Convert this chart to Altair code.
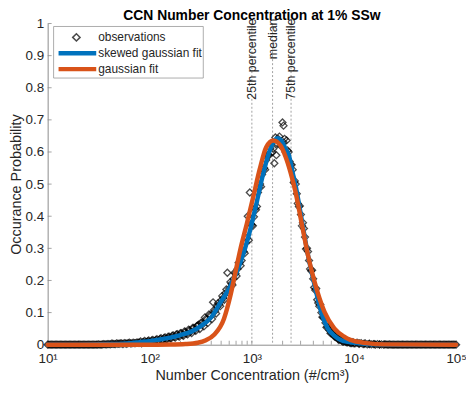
import altair as alt
import pandas as pd

# ---------------- data (log10 of concentration, probability) ----------------
obs_log_left = [1.0, 1.025, 1.05, 1.075, 1.1, 1.125, 1.15, 1.175, 1.2, 1.225,
                1.25, 1.275, 1.3, 1.325, 1.35, 1.375, 1.4, 1.425, 1.45, 1.475,
                1.5, 1.525, 1.55, 1.575, 1.6, 1.625, 1.65, 1.675, 1.7, 1.725,
                1.75, 1.775, 1.8, 1.825, 1.85, 1.875]
obs_p_left = [0, 0, 0, 0, 0, 0, 0, 0, 0, 0,
              0, 0, 0, 0, 0, 0, 0, 0, 0, 0,
              0.001, 0, 0.002, 0.001, 0.002, 0.003, 0.002, 0.004, 0.003, 0.004,
              0.005, 0.003, 0.006, 0.004, 0.005, 0.007]

obs_log_left2 = [1.0125, 1.0375, 1.0625, 1.0875, 1.1125, 1.1375, 1.1625, 1.1875,
                 1.2125, 1.2375, 1.2625, 1.2875, 1.3125, 1.3375, 1.3625, 1.3875,
                 1.4125, 1.4375, 1.4625, 1.4875, 1.5125, 1.5375, 1.5625, 1.5875,
                 1.6125, 1.6375, 1.6625, 1.6875, 1.7125, 1.7375, 1.7625, 1.7875,
                 1.8125, 1.8375, 1.8625, 1.8875]
obs_p_left2 = [0, 0, 0, 0, 0, 0, 0, 0, 0, 0,
               0, 0, 0, 0, 0, 0, 0, 0, 0, 0,
               0, 0.001, 0.001, 0.002, 0.001, 0.003, 0.002, 0.003, 0.004, 0.002,
               0.004, 0.005, 0.004, 0.006, 0.005, 0.006]

obs_log_mid = [1.90, 1.92, 1.94, 1.96, 1.98, 2.00, 2.02, 2.04, 2.06, 2.08,
               2.10, 2.12, 2.14, 2.16, 2.18, 2.20, 2.22, 2.24, 2.26, 2.28,
               2.30, 2.32, 2.34, 2.36, 2.38, 2.40, 2.42, 2.44, 2.46, 2.48,
               2.50, 2.52, 2.54, 2.56, 2.58, 2.60, 2.62, 2.64, 2.66, 2.68,
               2.70, 2.72, 2.74, 2.76, 2.78, 2.80, 2.82, 2.84, 2.86, 2.88,
               2.90, 2.92, 2.94, 2.96, 2.98, 3.00, 3.02, 3.04, 3.06, 3.08,
               3.10, 3.12, 3.14, 3.16, 3.18, 3.20, 3.22, 3.24, 3.26, 3.28,
               3.30, 3.31, 3.32, 3.34, 3.36, 3.38, 3.40, 3.42, 3.44, 3.46,
               3.48, 3.50, 3.52, 3.54, 3.56, 3.58, 3.60, 3.62, 3.64, 3.66,
               3.68, 3.70, 3.72, 3.74, 3.76, 3.78, 3.80, 3.82, 3.84, 3.86,
               3.88, 3.90, 3.92, 3.94, 3.96, 3.98, 4.00, 4.05, 4.10, 4.15,
               4.20, 4.25]
obs_p_mid = [0.006, 0.004, 0.009, 0.007, 0.011, 0.008, 0.013, 0.010, 0.015, 0.012,
             0.018, 0.014, 0.021, 0.017, 0.025, 0.020, 0.028, 0.024, 0.032, 0.027,
             0.036, 0.030, 0.041, 0.035, 0.047, 0.040, 0.052, 0.046, 0.058, 0.062,
             0.068, 0.064, 0.085, 0.078, 0.094, 0.090, 0.132, 0.105, 0.118, 0.125,
             0.138, 0.146, 0.160, 0.224, 0.175, 0.190, 0.205, 0.222, 0.236, 0.255,
             0.262, 0.290, 0.318, 0.400, 0.474, 0.372, 0.398, 0.420, 0.474, 0.500,
             0.530, 0.550, 0.575, 0.590, 0.612, 0.600, 0.565, 0.590, 0.640, 0.620,
             0.692, 0.682, 0.641, 0.636, 0.600, 0.560, 0.545, 0.510, 0.470, 0.430,
             0.405, 0.380, 0.335, 0.300, 0.262, 0.230, 0.205, 0.170, 0.140, 0.120,
             0.100, 0.085, 0.068, 0.055, 0.045, 0.036, 0.030, 0.024, 0.019, 0.015,
             0.013, 0.010, 0.009, 0.007, 0.006, 0.005, 0.004, 0.004, 0.003, 0.002,
             0.002, 0.001]

obs_log_mid2 = [1.91, 1.93, 1.95, 1.97, 1.99, 2.01, 2.03, 2.05, 2.07, 2.09,
                2.11, 2.13, 2.15, 2.17, 2.19, 2.21, 2.23, 2.25, 2.27, 2.29,
                2.31, 2.33, 2.35, 2.37, 2.39, 2.41, 2.43, 2.45, 2.47, 2.49,
                2.51, 2.53, 2.55, 2.57, 2.59, 2.61, 2.63, 2.65, 2.67, 2.69,
                2.71, 2.73, 2.75, 2.77, 2.79, 2.81, 2.83, 2.85, 2.87, 2.89,
                2.91, 2.93, 2.95, 2.97, 2.99, 3.01, 3.03, 3.05, 3.07, 3.09,
                3.11, 3.13, 3.15, 3.17, 3.19, 3.21, 3.23, 3.25, 3.27, 3.29,
                3.31, 3.33, 3.35, 3.37, 3.39, 3.41, 3.43, 3.45, 3.47, 3.49,
                3.51, 3.53, 3.55, 3.57, 3.59, 3.61, 3.63, 3.65, 3.67, 3.69,
                3.71, 3.73, 3.75, 3.77, 3.79, 3.81, 3.83, 3.85, 3.87, 3.89,
                3.91, 3.93, 3.95, 3.97, 3.99, 4.01, 4.03, 4.05, 4.07, 4.09,
                4.11, 4.13, 4.15, 4.17, 4.19, 4.21, 4.23, 4.25, 4.27, 4.29]
obs_p_mid2 = [0.010, 0.007, 0.012, 0.008, 0.013, 0.009, 0.015, 0.011, 0.017, 0.013,
              0.020, 0.015, 0.023, 0.017, 0.025, 0.020, 0.029, 0.022, 0.033, 0.025,
              0.036, 0.028, 0.040, 0.032, 0.045, 0.036, 0.052, 0.043, 0.060, 0.049,
              0.068, 0.057, 0.080, 0.068, 0.092, 0.080, 0.108, 0.097, 0.130, 0.120,
              0.152, 0.140, 0.172, 0.162, 0.195, 0.186, 0.224, 0.214, 0.255, 0.246,
              0.292, 0.285, 0.332, 0.325, 0.375, 0.370, 0.425, 0.430, 0.490, 0.492,
              0.545, 0.545, 0.590, 0.590, 0.625, 0.610, 0.645, 0.625, 0.648, 0.625,
              0.630, 0.600, 0.605, 0.570, 0.560, 0.505, 0.500, 0.440, 0.432, 0.370,
              0.362, 0.298, 0.290, 0.236, 0.232, 0.178, 0.175, 0.130, 0.125, 0.086,
              0.085, 0.054, 0.054, 0.036, 0.038, 0.025, 0.026, 0.016, 0.017, 0.010,
              0.012, 0.007, 0.010, 0.005, 0.008, 0.004, 0.006, 0.003, 0.005, 0.002,
              0.004, 0.001, 0.003, 0.001, 0.002, 0, 0.002, 0, 0.001, 0]

obs_log_right = [4.3, 4.325, 4.35, 4.375, 4.4, 4.425, 4.45, 4.475, 4.5, 4.525,
                 4.55, 4.575, 4.6, 4.625, 4.65, 4.675, 4.7, 4.725, 4.75, 4.775,
                 4.8, 4.825, 4.85, 4.875, 4.9, 4.925, 4.95, 4.975, 5.0]
obs_p_right = [0.001, 0, 0.001, 0, 0, 0, 0, 0, 0, 0,
               0, 0, 0, 0, 0, 0, 0, 0, 0, 0,
               0, 0, 0, 0, 0, 0, 0, 0, 0]

obs_log_right2 = [4.3125, 4.3375, 4.3625, 4.3875, 4.4125, 4.4375, 4.4625, 4.4875,
                  4.5125, 4.5375, 4.5625, 4.5875, 4.6125, 4.6375, 4.6625, 4.6875,
                  4.7125, 4.7375, 4.7625, 4.7875, 4.8125, 4.8375, 4.8625, 4.8875,
                  4.9125, 4.9375, 4.9625, 4.9875]
obs_p_right2 = [0.001, 0, 0, 0, 0, 0, 0, 0, 0, 0,
                0, 0, 0, 0, 0, 0, 0, 0, 0, 0,
                0, 0, 0, 0, 0, 0, 0, 0]

skew_log = [1.0, 1.3, 1.6, 1.8, 1.9, 2.0, 2.1, 2.2, 2.3, 2.4, 2.5, 2.6, 2.69,
            2.79, 2.886, 2.965, 3.045, 3.108, 3.17, 3.21, 3.25, 3.29, 3.33,
            3.362, 3.40, 3.426, 3.489, 3.552, 3.616, 3.679, 3.743, 3.80, 3.87,
            3.95, 4.03, 4.2, 4.5, 5.0]
skew_p = [0, 0, 0.002, 0.005, 0.008, 0.011, 0.016, 0.022, 0.030, 0.040, 0.058,
          0.085, 0.13, 0.183, 0.254, 0.335, 0.44, 0.529, 0.60, 0.63, 0.643,
          0.635, 0.61, 0.59, 0.535, 0.499, 0.387, 0.275, 0.183, 0.102, 0.051,
          0.030, 0.015, 0.008, 0.005, 0.001, 0, 0]

gauss_log = [1.0, 2.0, 2.2, 2.35, 2.47, 2.55, 2.63, 2.727, 2.79, 2.838, 2.886,
             2.95, 3.012, 3.076, 3.14, 3.21, 3.28, 3.33, 3.38, 3.426, 3.489,
             3.552, 3.616, 3.711, 3.807, 3.9, 3.965, 4.124, 4.3, 5.0]
gauss_p = [0, 0, 0.0005, 0.002, 0.006, 0.014, 0.031, 0.081, 0.153, 0.224, 0.295,
           0.376, 0.458, 0.545, 0.615, 0.636, 0.62, 0.585, 0.535, 0.478, 0.376,
           0.275, 0.193, 0.102, 0.051, 0.026, 0.015, 0.005, 0.001, 0]

pct_conc = [1000, 1595, 2420]
pct_labels = ["25th percentile", "median", "75th percentile"]

legend_labels = ["observations", "skewed gaussian fit", "gaussian fit"]
x_major = [10, 100, 1000, 10000, 100000]
y_ticks = [0, 0.1, 0.2, 0.3, 0.4, 0.5, 0.6, 0.7, 0.8, 0.9, 1.0]

# ---------------- frames ----------------
all_log = (obs_log_left + obs_log_left2 + obs_log_mid + obs_log_mid2
           + obs_log_right + obs_log_right2)
all_p = (obs_p_left + obs_p_left2 + obs_p_mid + obs_p_mid2
         + obs_p_right + obs_p_right2)
obs_df = pd.DataFrame({"conc": [10 ** v for v in all_log], "prob": all_p})
skew_df = pd.DataFrame({"conc": [10 ** v for v in skew_log], "prob": skew_p})
gauss_df = pd.DataFrame({"conc": [10 ** v for v in gauss_log], "prob": gauss_p})
pct_df = pd.DataFrame({"conc": pct_conc, "label": pct_labels})
minor = []
for d in [10, 100, 1000, 10000]:
    for m in range(1, 10):
        minor.append(d * m)
minor.append(100000)
xtick_df = pd.DataFrame({"conc": minor})
ytick_df = pd.DataFrame({"prob": y_ticks})

W, H = 412, 324
AX = "#262626"
FONT = "Liberation Sans"

x_scale = alt.Scale(type="log", domain=[10, 100000])
y_scale = alt.Scale(domain=[0, 1])

x_axis = alt.Axis(values=x_major,
                  labelExpr="'10' + ['⁰','¹','²','³','⁴','⁵'][round(log(datum.value)/LN10)]",
                  ticks=False, tickSize=0, labelPadding=7, grid=False,
                  domainColor="#8c8c8c", labelFontSize=13.5, labelColor=AX,
                  titleFontSize=14.5, titleColor=AX, titleFontWeight="normal",
                  titlePadding=4, labelFlush=False)
y_axis = alt.Axis(values=y_ticks, format=".1~f", ticks=False, tickSize=0,
                  labelPadding=4, grid=False, domainColor="#8c8c8c",
                  labelFontSize=13.5, labelColor=AX, titleFontSize=14.5,
                  titleColor=AX, titleFontWeight="normal", titlePadding=2)

x_enc = alt.X("conc:Q", scale=x_scale, axis=x_axis,
              title="Number Concentration (#/cm³)")
y_enc = alt.Y("prob:Q", scale=y_scale, axis=y_axis,
              title="Occurance Probability")

pct_rules = alt.Chart(pct_df).mark_rule(
    color="#8a8a8a", strokeDash=[2, 2], strokeWidth=0.8
).encode(x=x_enc)

pct_text = alt.Chart(pct_df).mark_text(
    angle=270, align="right", baseline="middle", dx=10,
    fontSize=12.5, color=AX, font=FONT
).encode(x=x_enc, y=alt.value(5), text="label:N")

xticks = alt.Chart(xtick_df).mark_rule(color="#8c8c8c", strokeWidth=0.8).encode(
    x=x_enc, y=alt.value(H), y2=alt.value(H - 4))
yticks = alt.Chart(ytick_df).mark_rule(color="#8c8c8c", strokeWidth=0.8).encode(
    y=y_enc, x=alt.value(0), x2=alt.value(4))

obs = alt.Chart(obs_df).mark_point(
    shape="diamond", filled=False, color="black", size=50, strokeWidth=1.3
).encode(x=x_enc, y=y_enc)

skew = alt.Chart(skew_df).mark_line(
    color="#0072BD", strokeWidth=4.5, strokeCap="round", interpolate="monotone"
).encode(x=x_enc, y=y_enc)

gauss = alt.Chart(gauss_df).mark_line(
    color="#D95319", strokeWidth=4.5, strokeCap="round", interpolate="monotone"
).encode(x=x_enc, y=y_enc)

one = pd.DataFrame({"a": [0]})
leg_box = alt.Chart(one).mark_rect(fill="white", stroke="#999999", strokeWidth=0.8).encode(
    x=alt.value(6), x2=alt.value(157), y=alt.value(3), y2=alt.value(55))
leg_diamond = alt.Chart(one).mark_point(
    shape="diamond", filled=False, color="black", size=55, strokeWidth=1.5
).encode(x=alt.value(29), y=alt.value(14))
leg_blue = alt.Chart(one).mark_rule(color="#0072BD", strokeWidth=4.5).encode(
    x=alt.value(11), x2=alt.value(49), y=alt.value(30))
leg_orange = alt.Chart(one).mark_rule(color="#D95319", strokeWidth=4.5).encode(
    x=alt.value(11), x2=alt.value(49), y=alt.value(46))
leg_texts = [
    alt.Chart(one).mark_text(align="left", baseline="middle", fontSize=12,
                             color=AX, font=FONT).encode(
        x=alt.value(51), y=alt.value(yy), text=alt.value(lbl))
    for lbl, yy in zip(legend_labels, [14, 30, 46])
]

chart = alt.layer(
    pct_rules, pct_text, xticks, yticks, obs, skew, gauss,
    leg_box, leg_diamond, leg_blue, leg_orange, *leg_texts
).properties(
    width=W, height=H,
    title=alt.Title("CCN Number Concentration at 1% SSw", fontSize=14,
                    fontWeight="bold", color="black", font=FONT, offset=3,
                    frame="group", dy=9),
    autosize=alt.AutoSizeParams(type="none"),
    padding={"left": 40, "top": 14, "right": 10, "bottom": 39},
).configure(font=FONT).configure_view(stroke=None)

chart.save("out.html", embed_options={"renderer": "svg", "actions": False})
